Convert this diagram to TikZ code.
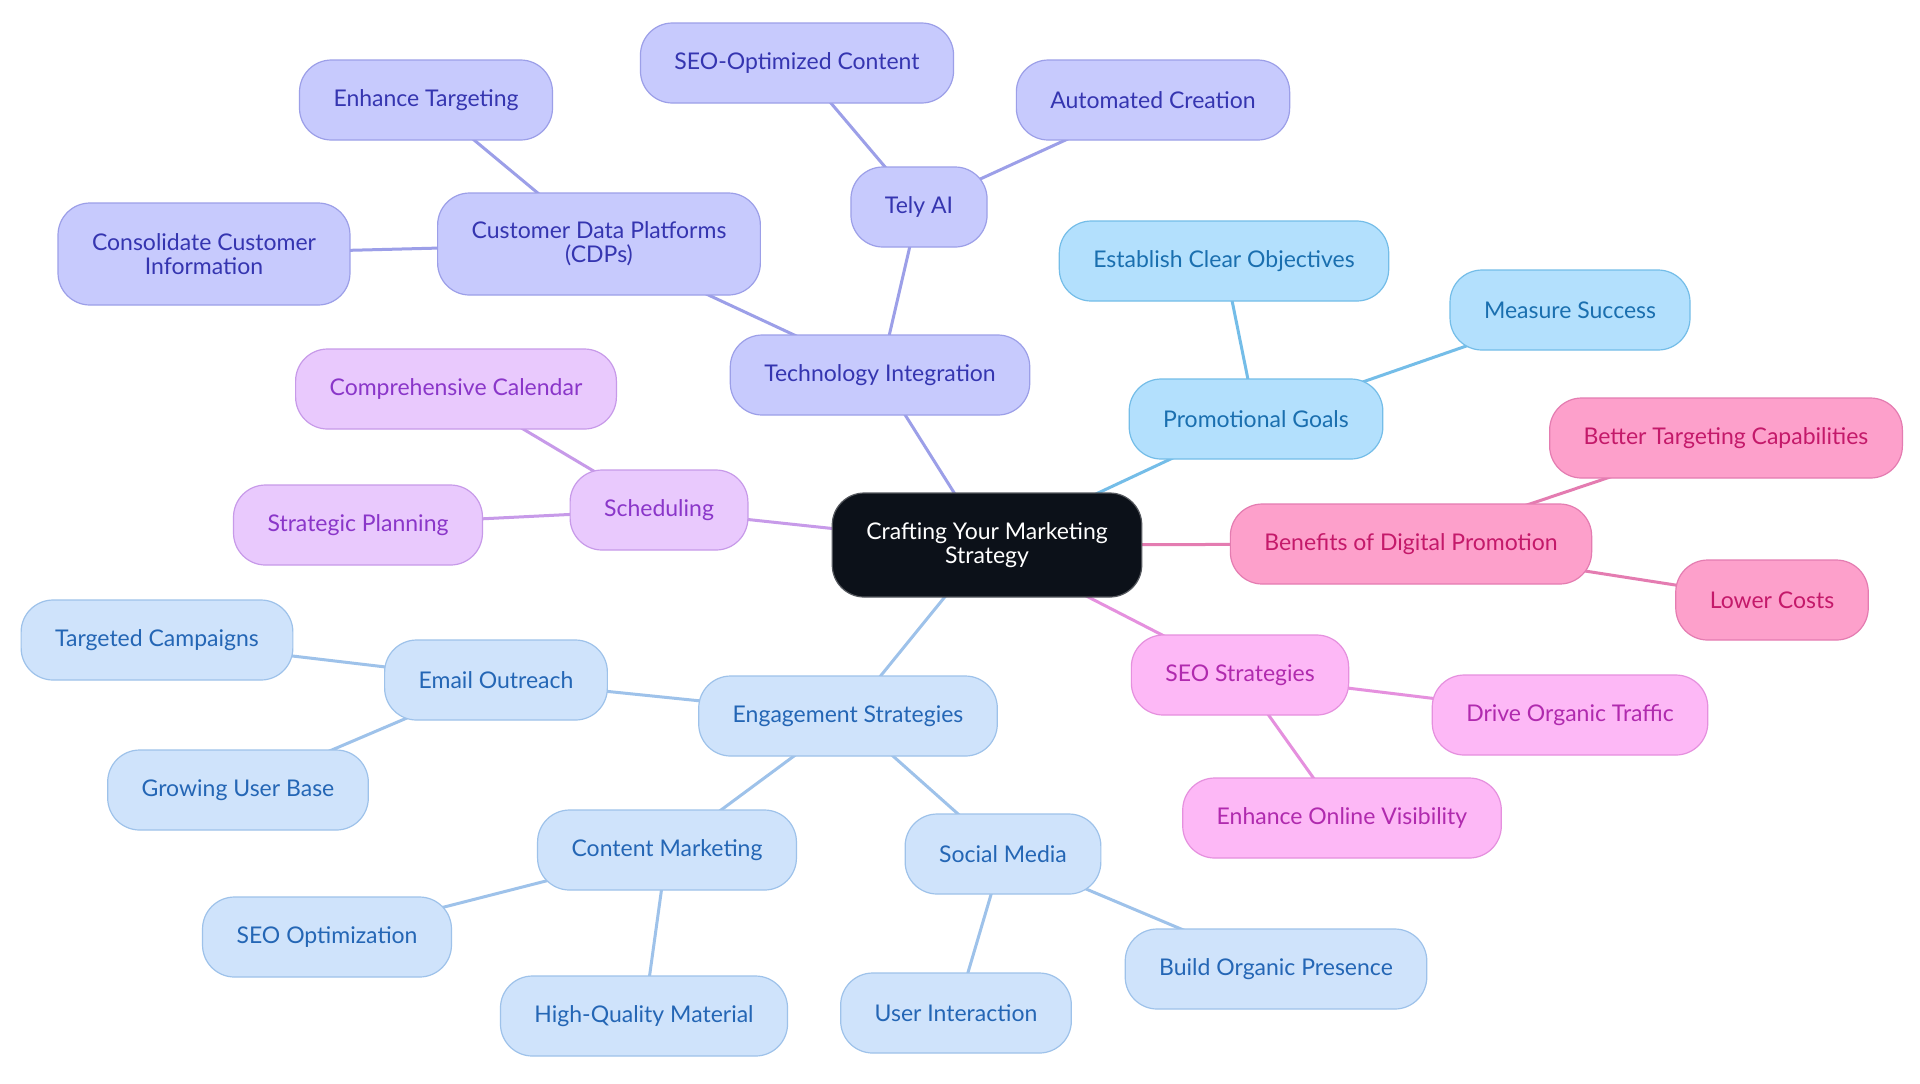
\documentclass[tikz,border=0pt]{standalone}
\usepackage{fontspec}
\setmainfont{Lato}
\usetikzlibrary{backgrounds}
\definecolor{vioF}{HTML}{C7CAFD}\definecolor{vioD}{HTML}{9C9FE8}\definecolor{vioT}{HTML}{3535B0}
\definecolor{skyF}{HTML}{B3E0FD}\definecolor{skyD}{HTML}{74BDE8}\definecolor{skyT}{HTML}{1A6FAF}
\definecolor{pnkF}{HTML}{FDA0CB}\definecolor{pnkD}{HTML}{E47CB1}\definecolor{pnkT}{HTML}{C4196A}
\definecolor{magF}{HTML}{FDB8F6}\definecolor{magD}{HTML}{E590DE}\definecolor{magT}{HTML}{B02AAE}
\definecolor{purF}{HTML}{E9C9FD}\definecolor{purD}{HTML}{C79AE9}\definecolor{purT}{HTML}{8A36C9}
\definecolor{lbF}{HTML}{CFE3FB}\definecolor{lbD}{HTML}{9EC2EA}\definecolor{lbT}{HTML}{2466B5}
\definecolor{rootF}{HTML}{0C1119}
\tikzset{
  box/.style={rounded corners=16pt, line width=0.6pt, minimum height=40pt, inner xsep=17pt, align=center, font=\fontsize{11.5}{12}\selectfont},
  vio/.style={box, fill=vioF, draw=vioD, text=vioT},
  sky/.style={box, fill=skyF, draw=skyD, text=skyT},
  pnk/.style={box, fill=pnkF, draw=pnkD, text=pnkT},
  mag/.style={box, fill=magF, draw=magD, text=magT},
  pur/.style={box, fill=purF, draw=purD, text=purT},
  lb/.style={box, fill=lbF, draw=lbD, text=lbT},
  rootbox/.style={box, fill=rootF, draw=rootF!70!white, text=white, minimum height=52pt, inner xsep=17pt},
  two/.style={minimum height=51pt},
  vioE/.style={draw=vioD, line width=1.5pt},
  skyE/.style={draw=skyD, line width=1.5pt},
  pnkE/.style={draw=pnkD, line width=1.5pt},
  magE/.style={draw=magD, line width=1.5pt},
  purE/.style={draw=purD, line width=1.5pt},
  lbE/.style={draw=lbD, line width=1.5pt},
}
\begin{document}
\begin{tikzpicture}[x=0.5pt,y=-0.5pt]
\useasboundingbox (0,0) rectangle (1920,1083);
\node[rootbox] (root) at (987,545) {Crafting Your Marketing\\Strategy};
% technology
\node[vio] (tech) at (880,375) {Technology Integration};
\node[vio,two] (cdp) at (599,244) {Customer Data Platforms\\(CDPs)};
\node[vio] (enh) at (426,100) {Enhance Targeting};
\node[vio,two] (cons) at (204,254) {Consolidate Customer\\Information};
\node[vio] (tely) at (919,207) {Tely AI};
\node[vio] (seoc) at (797,63) {SEO-Optimized Content};
\node[vio] (auto) at (1153,100) {Automated Creation};
% promotional
\node[sky] (promo) at (1256,419) {Promotional Goals};
\node[sky] (estab) at (1224,261) {Establish Clear Objectives};
\node[sky] (meas) at (1570,310) {Measure Success};
% benefits
\node[pnk] (ben) at (1411,544) {Benefits of Digital Promotion};
\node[pnk] (btc) at (1726,438) {Better Targeting Capabilities};
\node[pnk] (low) at (1772,600) {Lower Costs};
% seo
\node[mag] (seos) at (1240,675) {SEO Strategies};
\node[mag] (drive) at (1570,715) {Drive Organic Traffic};
\node[mag] (vis) at (1342,818) {Enhance Online Visibility};
% scheduling
\node[pur] (sched) at (659,510) {Scheduling};
\node[pur] (cal) at (456,389) {Comprehensive Calendar};
\node[pur] (plan) at (358,525) {Strategic Planning};
% engagement
\node[lb] (eng) at (848,716) {Engagement Strategies};
\node[lb] (email) at (496,680) {Email Outreach};
\node[lb] (targ) at (157,640) {Targeted Campaigns};
\node[lb] (grow) at (238,790) {Growing User Base};
\node[lb] (cont) at (667,850) {Content Marketing};
\node[lb] (seoo) at (327,937) {SEO Optimization};
\node[lb] (hq) at (644,1016) {High-Quality Material};
\node[lb] (soc) at (1003,854) {Social Media};
\node[lb] (ui) at (956,1013) {User Interaction};
\node[lb] (bop) at (1276,969) {Build Organic Presence};
\begin{scope}[on background layer]
\fill[white] (0,0) rectangle (1920,1083);
\draw[vioE] (root.center) -- (tech.center);
\draw[vioE] (tech.center) -- (cdp.center);
\draw[vioE] (cdp.center) -- (enh.center);
\draw[vioE] (cdp.center) -- (cons.center);
\draw[vioE] (tech.center) -- (tely.center);
\draw[vioE] (tely.center) -- (seoc.center);
\draw[vioE] (tely.center) -- (auto.center);
\draw[skyE] (root.center) -- (promo.center);
\draw[skyE] (promo.center) -- (estab.center);
\draw[skyE] (promo.center) -- (meas.center);
\draw[pnkE] (root.center) -- (ben.center);
\draw[pnkE] (ben.center) -- (btc.center);
\draw[pnkE] (ben.center) -- (low.center);
\draw[magE] (root.center) -- (seos.center);
\draw[magE] (seos.center) -- (drive.center);
\draw[magE] (seos.center) -- (vis.center);
\draw[purE] (root.center) -- (sched.center);
\draw[purE] (sched.center) -- (cal.center);
\draw[purE] (sched.center) -- (plan.center);
\draw[lbE] (root.center) -- (eng.center);
\draw[lbE] (eng.center) -- (email.center);
\draw[lbE] (email.center) -- (targ.center);
\draw[lbE] (email.center) -- (grow.center);
\draw[lbE] (eng.center) -- (cont.center);
\draw[lbE] (cont.center) -- (seoo.center);
\draw[lbE] (cont.center) -- (hq.center);
\draw[lbE] (eng.center) -- (soc.center);
\draw[lbE] (soc.center) -- (ui.center);
\draw[lbE] (soc.center) -- (bop.center);
\end{scope}
\end{tikzpicture}
\end{document}
